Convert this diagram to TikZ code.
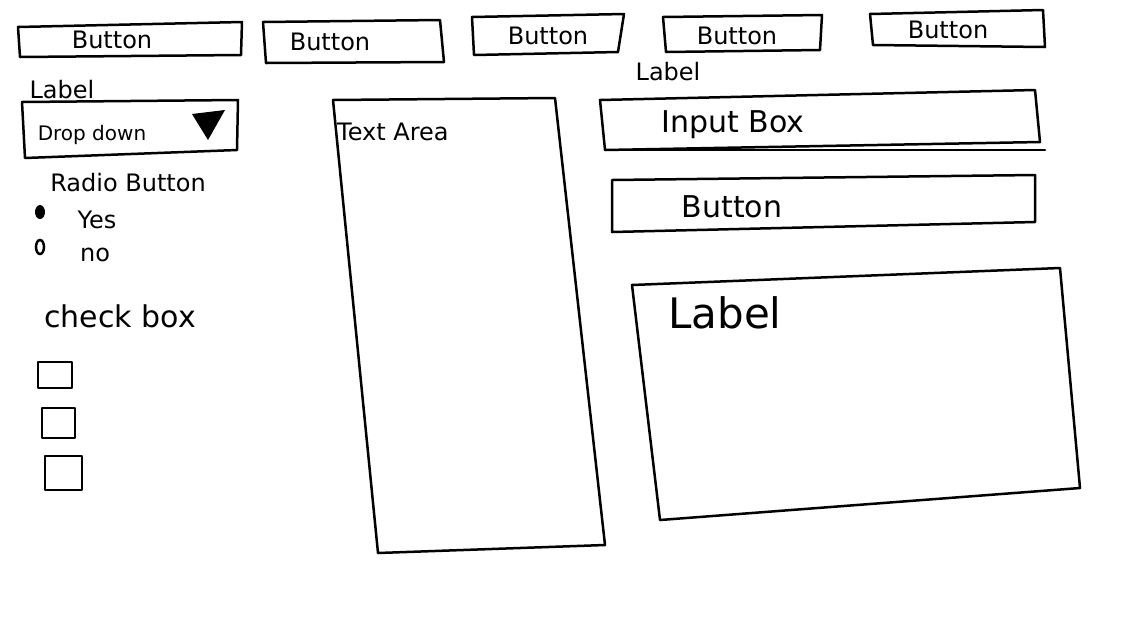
\documentclass[tikz,border=0pt]{standalone}
\usepackage{fontspec}
\setmainfont{DejaVu Sans}
\begin{document}
\begin{tikzpicture}[x=1pt,y=-1pt,
  sk/.style={draw=black,line width=2.5pt,line join=round,line cap=round},
  txt/.style={font=\fontsize{24}{26}\selectfont,inner sep=0pt}]
\useasboundingbox (0,0) rectangle (1140,641);
% top buttons
\draw[sk] (18,27) -- (242,22) -- (241,55) -- (20,57) -- cycle;
\node[txt] (b1) at (112,40) {Button};
\draw[sk] (263,22) -- (440,20) -- (444,62) -- (266,63) -- cycle;
\node[txt] (b2) at (330,42) {Button};
\draw[sk] (472,17) -- (624,14) -- (618,52) -- (474,55) -- cycle;
\node[txt] (b3) at (548,36) {Button};
\draw[sk] (663,17) -- (822,15) -- (820,50) -- (666,52) -- cycle;
\node[txt] (b4) at (737,36) {Button};
\draw[sk] (870,14) -- (1043,10) -- (1045,47) -- (873,45) -- cycle;
\node[txt] (b5) at (948,30) {Button};
% left column
\node[txt] (l1) at (62,90) {Label};
\draw[sk] (22,102) -- (238,100) -- (237,150) -- (25,158) -- cycle;
\node[txt,font=\fontsize{20}{22}\selectfont] (dd) at (92,135) {Drop down};
\fill (192,114) -- (225,110) -- (208,140) -- cycle;
\node[txt] (rb) at (128,183) {Radio Button};
\fill (40,212) ellipse (5pt and 7pt);
\node[txt] (yes) at (97,220) {Yes};
\draw[line width=2.5pt] (40,247) ellipse (4pt and 7pt);
\node[txt] (no) at (95,255) {no};
\node[txt,font=\fontsize{30}{32}\selectfont] (cb) at (120,316) {check box};
\draw[sk] (38,362) rectangle (72,388);
\draw[sk] (42,408) rectangle (75,438);
\draw[sk] (45,456) rectangle (82,490);
% text area
\draw[sk] (333,100) -- (555,98) -- (605,545) -- (378,553) -- cycle;
\node[txt,anchor=west] (ta) at (337,132) {Text Area};
% right column
\node[txt] (l2) at (668,72) {Label};
\draw[sk] (600,100) -- (1035,90) -- (1040,142) -- (605,150) -- cycle;
\draw[sk] (605,150) -- (1045,150);
\node[txt,font=\fontsize{30}{32}\selectfont] (ib) at (733,125) {Input Box};
\draw[sk] (612,180) -- (1035,175) -- (1035,222) -- (612,232) -- cycle;
\node[txt,font=\fontsize{30}{32}\selectfont] (b6) at (732,207) {Button};
\draw[sk] (632,285) -- (1060,268) -- (1080,488) -- (660,520) -- cycle;
\node[txt,font=\fontsize{42}{44}\selectfont] (l3) at (725,313) {Label};
\end{tikzpicture}
\end{document}
